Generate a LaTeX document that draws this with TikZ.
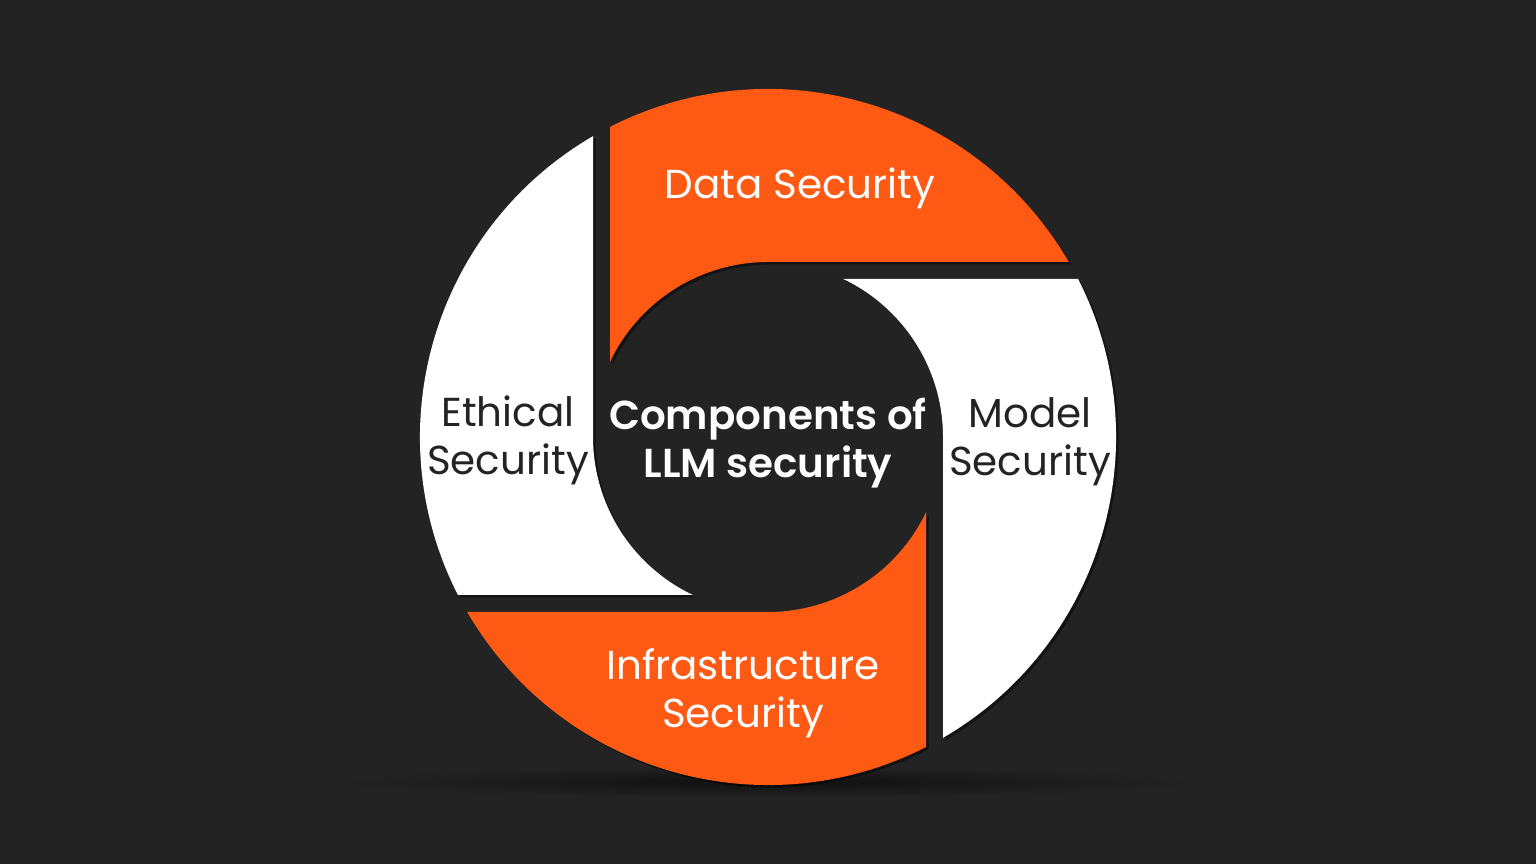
\documentclass[tikz,border=0pt]{standalone}
\usepackage{fontspec}
\setmainfont{Poppins}
\newfontfamily\hubfont{Poppins SemiBold}
\usetikzlibrary{shadows,positioning}
\definecolor{bgdark}{HTML}{232323}
\definecolor{llmorange}{HTML}{FF5A14}
\tikzset{%
  part/.style={draw=none, drop shadow={shadow xshift=0.025, shadow yshift=-0.025, fill=black, opacity=0.45}},
  orangepart/.style={part, fill=llmorange},
  whitepart/.style={part, fill=white},
  lbl/.style={align=center, font=\fontsize{11.5}{13.7}\selectfont, inner sep=0pt},
  onorange/.style={lbl, text=white},
  onwhite/.style={lbl, text=bgdark},
  hub/.style={lbl, text=white, font=\fontsize{11.5}{13.7}\selectfont\hubfont},
}
\newcommand{\ringpart}[2]{%
  \path [#2, shift={(ring)}, rotate=#1] (-1.58,3.10) -- (-1.58,0.752)
    arc[start angle=154.55, end angle=90, radius=1.75] -- (3.008,1.75)
    arc[start angle=30.19, end angle=117.0, radius=3.48] -- cycle;}

\begin{document}
\begin{tikzpicture}
  \fill [bgdark] (0,0) rectangle (15.36,8.64);
  \useasboundingbox (0,0) rectangle (15.36,8.64);
  \coordinate (ring) at (7.68,4.27);

  % soft shadow under the ring
  \shade [inner color=black!55!bgdark, outer color=bgdark] (7.68,0.82) ellipse [x radius=4.3, y radius=0.16];

  \ringpart{0}{orangepart}
  \ringpart{-90}{whitepart}
  \ringpart{-180}{orangepart}
  \ringpart{90}{whitepart}

  \node (data) [onorange] at (8.00,6.76) {Data Security};
  \node (model) [onwhite] at (10.30,4.22) {Model\\Security};
  \node (infra) [onorange] at (7.43,1.71) {Infrastructure\\Security};
  \node (ethical) [onwhite] at (5.08,4.24) {Ethical\\Security};
  \node (center) [hub] at (7.68,4.21) {Components of\\LLM security};
\end{tikzpicture}
\end{document}
